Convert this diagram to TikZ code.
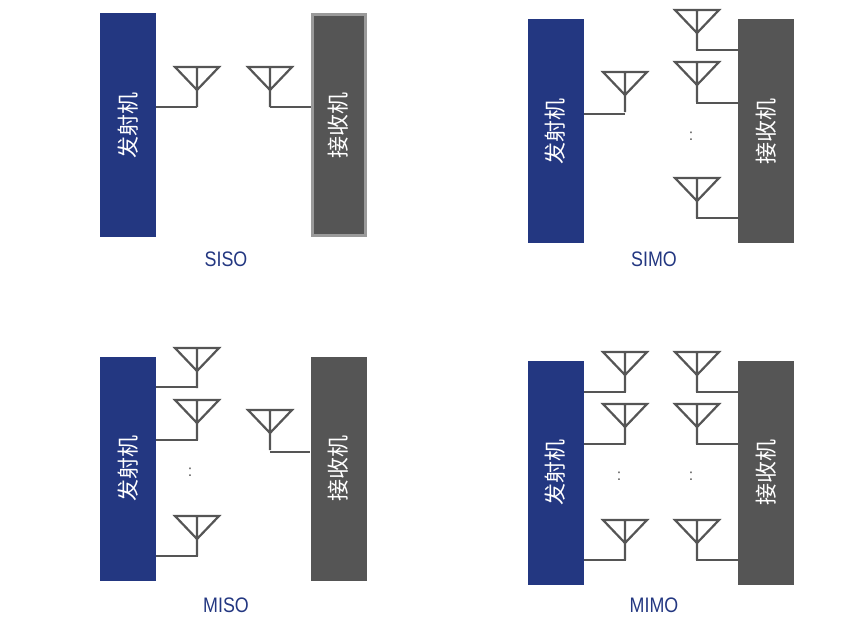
\documentclass[tikz,border=0pt]{standalone}
\usepackage{fontspec}
\setmainfont{Liberation Sans}
\newfontfamily\cjk{Noto Sans CJK SC}
\definecolor{txblue}{HTML}{233781}
\definecolor{rxgray}{HTML}{555555}
\definecolor{edgegray}{HTML}{9A9A9A}
\tikzset{
  tx/.style={draw=none,fill=txblue,minimum width=56pt,minimum height=224pt,inner sep=0pt},
  rx/.style={draw=none,fill=rxgray,minimum width=56pt,minimum height=224pt,inner sep=0pt},
  boxtext/.style={text=white,font=\cjk\fontsize{22}{22}\selectfont,rotate=90},
  wire/.style={draw=rxgray,line width=2.2pt},
  lbl/.style={text=txblue,font=\fontsize{21}{21}\selectfont\addfontfeature{FakeStretch=0.85}},
  dots/.style={text=rxgray,font=\fontsize{16}{16}\selectfont},
  ant/.pic={\draw[wire,line join=miter] (-22,0) -- (22,0) -- (0,23) -- cycle (0,0) -- (0,40);}
}
\begin{document}
\begin{tikzpicture}[x=1pt,y=-1pt]
\useasboundingbox (0,0) rectangle (857,622);

% SISO
\node[tx] (tx1) at (128,125) {};
\node[boxtext] at (tx1) {发射机};
\node[rx,draw=edgegray,line width=3pt,minimum width=53pt,minimum height=221pt] (rx1) at (338.5,125) {};
\node[boxtext] at (rx1) {接收机};
\pic at (197,67) {ant}; \coordinate (a1) at (197,107);
\pic at (270,67) {ant}; \coordinate (b1) at (270,107);
\draw[wire] (a1) -- (a1 -| tx1.east);
\draw[wire] (b1) -- (b1 -| rx1.west);
\node[lbl] at (226,259) {SISO};

% SIMO
\node[tx] (tx2) at (555.5,131) {};
\node[boxtext] at (tx2) {发射机};
\node[rx] (rx2) at (766,131) {};
\node[boxtext] at (rx2) {接收机};
\pic at (625,72) {ant}; \coordinate (a2) at (625,114);
\draw[wire] (a2) -- (a2 -| tx2.east);
\foreach \t/\f [count=\i] in {10/50, 62/103, 178/218} {
  \pic at (697,\t) {ant};
  \coordinate (b2\i) at (697,\f);
  \draw[wire] (697,\t) -- (b2\i) -- (b2\i -| rx2.west);
}
\node[dots] at (691,136) {:};
\node[lbl] at (654,259) {SIMO};

% MISO
\node[tx] (tx3) at (128,468.5) {};
\node[boxtext] at (tx3) {发射机};
\node[rx] (rx3) at (338.5,468.5) {};
\node[boxtext] at (rx3) {接收机};
\foreach \t/\f [count=\i] in {348/387, 400/440, 516/556} {
  \pic at (197,\t) {ant};
  \coordinate (a3\i) at (197,\f);
  \draw[wire] (197,\t) -- (a3\i) -- (a3\i -| tx3.east);
}
\pic at (270,410) {ant}; \coordinate (b3) at (270,452);
\draw[wire] (b3) -- (b3 -| rx3.west);
\node[dots] at (190,472) {:};
\node[lbl] at (226,605) {MISO};

% MIMO
\node[tx] (tx4) at (555.5,472.5) {};
\node[boxtext] at (tx4) {发射机};
\node[rx] (rx4) at (766,472.5) {};
\node[boxtext] at (rx4) {接收机};
\foreach \t/\f [count=\i] in {352/392, 404/444, 520/560} {
  \pic at (625,\t) {ant};
  \coordinate (a4\i) at (625,\f);
  \draw[wire] (625,\t) -- (a4\i) -- (a4\i -| tx4.east);
  \pic at (697,\t) {ant};
  \coordinate (b4\i) at (697,\f);
  \draw[wire] (697,\t) -- (b4\i) -- (b4\i -| rx4.west);
}
\node[dots] at (619,476) {:};
\node[dots] at (691,476) {:};
\node[lbl] at (654,605) {MIMO};
\end{tikzpicture}
\end{document}
